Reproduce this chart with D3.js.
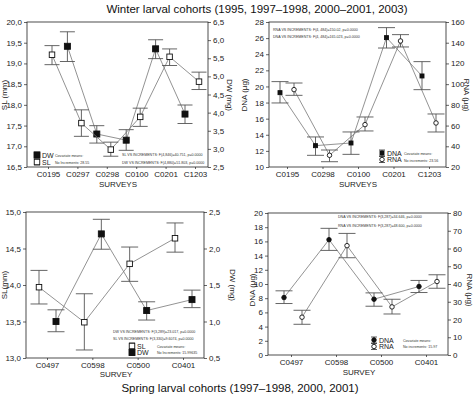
<!DOCTYPE html>
<html>
<head>
<meta charset="utf-8">
<script src="https://cdn.jsdelivr.net/npm/d3@7"></script>
<style>
  body { margin: 0; background: #fff; }
  svg { font-family: 'Liberation Sans', Arial, sans-serif; }
</style>
</head>
<body>
<svg id="chart" width="474" height="397"></svg>
<script>
// winter cohorts - SL / DW
const winterSurveys = ['C0195', 'C0297', 'C0298', 'C0100', 'C0201', 'C1203']
const winterSL = [19.21, 17.56, 16.92, 17.71, 19.16, 18.56]
const winterSLlo = [18.97, 17.24, 16.76, 17.48, 18.95, 18.37]
const winterSLhi = [19.43, 17.88, 17.10, 17.92, 19.35, 18.79]
const winterDWsurveys = ['C0297', 'C0298', 'C0100', 'C0201', 'C1203']
const winterDW = [5.83, 3.41, 3.24, 5.76, 3.96]
const winterDWlo = [5.41, 3.16, 2.96, 5.49, 3.70]
const winterDWhi = [6.23, 3.64, 3.53, 6.01, 4.21]
const slTicksW = [16.5, 17, 17.5, 18, 18.5, 19, 19.5, 20]
const dwTicksW = [2.5, 3, 3.5, 4, 4.5, 5, 5.5, 6, 6.5]

// winter cohorts - DNA / RNA
const winterNASurveys = ['C0195', 'C0298', 'C0100', 'C0201', 'C1203']
const winterDNA = [19.23, 12.65, 12.98, 26.06, 21.3]
const winterDNAlo = [17.95, 11.45, 11.57, 24.77, 19.6]
const winterDNAhi = [20.6, 13.73, 14.35, 27.3, 23.08]
const winterRNA = [94.7, 31.3, 60.9, 141.7, 62.5]
const winterRNAlo = [89.2, 25.1, 54.8, 135.9, 53.8]
const winterRNAhi = [101.1, 36.4, 68.3, 147.8, 71.2]
const dnaTicksW = [10, 12, 14, 16, 18, 20, 22, 24, 26, 28]
const rnaTicksW = [20, 40, 60, 80, 100, 120, 140, 160]

// spring cohorts
const springSurveys = ['C0497', 'C0598', 'C0500', 'C0401']
const springSL = [13.97, 13.49, 14.29, 14.64]
const springSLlo = [13.74, 13.11, 14.05, 14.45]
const springSLhi = [14.20, 13.88, 14.52, 14.85]
const springDW = [1.0, 2.2, 1.15, 1.3]
const springDWlo = [0.86, 1.99, 1.02, 1.19]
const springDWhi = [1.16, 2.4, 1.27, 1.43]
const slTicksS = [13, 13.5, 14, 14.5, 15]
const dwTicksS = [0.5, 1, 1.5, 2, 2.5]

const springDNA = [8.09, 16.24, 7.86, 9.65]
const springDNAlo = [7.25, 14.73, 6.87, 8.8]
const springDNAhi = [9.04, 17.84, 8.75, 10.5]
const springRNA = [21.3, 61.6, 27.1, 41.4]
const springRNAlo = [17.3, 54.8, 23.1, 37.6]
const springRNAhi = [25.2, 68.5, 31.4, 45.2]
const dnaTicksS = [0, 2, 4, 6, 8, 10, 12, 14, 16, 18, 20]
const rnaTicksS = [0, 10, 20, 30, 40, 50, 60, 70, 80]

const comma = d => d.toFixed(1).replace('.', ',')
const svg = d3.select('#chart')

function drawPanel (p) {
  const g = svg.append('g')
  const x = d3.scalePoint().domain(p.surveys).range(p.xRange)
  const yL = d3.scaleLinear().domain(p.leftDomain).range([p.bottom, p.top])
  const yR = d3.scaleLinear().domain(p.rightDomain).range([p.bottom, p.top])

  g.append('rect')
    .attr('x', p.left).attr('y', p.top)
    .attr('width', p.right - p.left).attr('height', p.bottom - p.top)
    .attr('fill', 'none').attr('stroke', '#222').attr('stroke-width', 0.8)

  const axes = [
    g.append('g').attr('transform', `translate(${p.left},0)`)
      .call(d3.axisLeft(yL).tickValues(p.leftTicks).tickFormat(p.fmt).tickSize(3).tickSizeOuter(0).tickPadding(2)),
    g.append('g').attr('transform', `translate(${p.right},0)`)
      .call(d3.axisRight(yR).tickValues(p.rightTicks).tickFormat(p.fmt).tickSize(3).tickSizeOuter(0).tickPadding(2)),
    g.append('g').attr('transform', `translate(0,${p.bottom})`)
      .call(d3.axisBottom(x).tickSize(2).tickSizeOuter(0).tickPadding(2))
  ]
  axes.forEach(a => {
    a.select('.domain').remove()
    a.selectAll('text').attr('font-size', 8).attr('fill', '#222')
    a.selectAll('line').attr('stroke', '#222').attr('stroke-width', 0.7)
  })

  p.series.forEach(s => {
    const y = s.axis === 'left' ? yL : yR
    const pts = s.surveys.map((c, i) => ({ x: x(c) + s.dx, m: s.mean[i], lo: s.lo[i], hi: s.hi[i] }))

    g.append('path')
      .attr('d', d3.line().x(d => d.x).y(d => y(d.m))(pts))
      .attr('fill', 'none').attr('stroke', '#777').attr('stroke-width', 0.8)

    const eb = g.append('g').attr('stroke', '#555').attr('stroke-width', 0.9)
    pts.forEach(d => {
      eb.append('line').attr('x1', d.x).attr('x2', d.x).attr('y1', y(d.lo)).attr('y2', y(d.hi))
      eb.append('line').attr('x1', d.x - p.cap).attr('x2', d.x + p.cap).attr('y1', y(d.lo)).attr('y2', y(d.lo))
      eb.append('line').attr('x1', d.x - p.cap).attr('x2', d.x + p.cap).attr('y1', y(d.hi)).attr('y2', y(d.hi))
    })

    pts.forEach(d => drawMarker(g, s, d.x, y(d.m)))
  })

  // axis titles
  const title = (tx, ty, txt, rot) => g.append('text')
    .attr('transform', `translate(${tx},${ty}) rotate(${rot || 0})`)
    .attr('text-anchor', 'middle').attr('font-size', 8).attr('fill', '#222').text(txt)
  title(p.leftTitle[0], p.leftTitle[1], p.leftTitle[2], -90)
  title(p.rightTitle[0], p.rightTitle[1], p.rightTitle[2], 90)
  title(p.xTitle[0], p.xTitle[1], p.xTitle[2])

  p.notes.forEach(n => {
    g.append('text').attr('x', n[0]).attr('y', n[1]).attr('font-size', n[3] || 3.6)
      .attr('fill', '#333').text(n[2])
  })

  p.legend.forEach(l => {
    const s = p.series[l.series]
    const eb = g.append('g').attr('stroke', '#333').attr('stroke-width', 0.8)
    eb.append('line').attr('x1', l.x).attr('x2', l.x).attr('y1', l.y - 3).attr('y2', l.y + 3)
    eb.append('line').attr('x1', l.x - 3).attr('x2', l.x + 3).attr('y1', l.y - 3).attr('y2', l.y - 3)
    eb.append('line').attr('x1', l.x - 3).attr('x2', l.x + 3).attr('y1', l.y + 3).attr('y2', l.y + 3)
    drawMarker(g, s, l.x, l.y)
    g.append('text').attr('x', l.x + 5).attr('y', l.y + 2.5).attr('font-size', 7).attr('fill', '#222').text(l.label)
  })
}

function drawMarker (g, s, cx, cy) {
  const r = s.size / 2
  if (s.shape === 'square') {
    g.append('rect').attr('x', cx - r).attr('y', cy - r).attr('width', s.size).attr('height', s.size)
      .attr('fill', s.filled ? '#111' : '#fff').attr('stroke', '#111').attr('stroke-width', 0.9)
  } else {
    g.append('circle').attr('cx', cx).attr('cy', cy).attr('r', r)
      .attr('fill', s.filled ? '#111' : '#fff').attr('stroke', '#111').attr('stroke-width', 0.9)
  }
}

drawPanel({
  left: 27, right: 208, top: 22, bottom: 167, xRange: [48, 195], cap: 7.5,
  surveys: winterSurveys,
  leftDomain: [16.5, 20], rightDomain: [2.5, 6.5], leftTicks: slTicksW, rightTicks: dwTicksW, fmt: comma,
  series: [
    { surveys: winterDWsurveys, mean: winterDW, lo: winterDWlo, hi: winterDWhi, axis: 'right', dx: -10, shape: 'square', filled: true, size: 6 },
    { surveys: winterSurveys, mean: winterSL, lo: winterSLlo, hi: winterSLhi, axis: 'left', dx: 4, shape: 'square', filled: false, size: 5.5 }
  ],
  leftTitle: [7, 95, 'SL (mm)'], rightTitle: [227, 95, 'DW (mg)'], xTitle: [118, 187, 'SURVEYS'],
  notes: [
    [55, 157, 'Covariate means:'], [55, 163.5, 'No Increments: 28.55'],
    [122, 156, 'SL VS INCREMENTS: F(4,846)=40.751, p=0.0000'], [122, 163.5, 'DW VS INCREMENTS: F(4,880)=51.803, p=0.0000']
  ],
  legend: [{ series: 0, x: 37, y: 155, label: 'DW' }, { series: 1, x: 37, y: 162, label: 'SL' }]
})

drawPanel({
  left: 269, right: 446, top: 22, bottom: 167, xRange: [287, 429], cap: 8.5,
  surveys: winterNASurveys,
  leftDomain: [10, 28], rightDomain: [20, 160], leftTicks: dnaTicksW, rightTicks: rnaTicksW, fmt: d3.format('d'),
  series: [
    { surveys: winterNASurveys, mean: winterRNA, lo: winterRNAlo, hi: winterRNAhi, axis: 'right', dx: 7, shape: 'circle', filled: false, size: 4.5 },
    { surveys: winterNASurveys, mean: winterDNA, lo: winterDNAlo, hi: winterDNAhi, axis: 'left', dx: -7, shape: 'square', filled: true, size: 4 }
  ],
  leftTitle: [247, 95, 'DNA (µg)'], rightTitle: [464, 95, 'RNA (µg)'], xTitle: [358, 187, 'SURVEYS'],
  notes: [
    [273, 30.5, 'RNA VS INCREMENTS: F(4, 484)=150.02, p=0.0000'], [273, 38, 'DNA VS INCREMENTS: F(4, 484)=165.023, p=0.0000'],
    [404, 155, 'Covariate means:'], [404, 161.5, 'No increments: 23.56']
  ],
  legend: [{ series: 1, x: 382, y: 153, label: 'DNA' }, { series: 0, x: 382, y: 159.5, label: 'RNA' }]
})

drawPanel({
  left: 26, right: 204, top: 212, bottom: 358, xRange: [47, 183], cap: 8.5,
  surveys: springSurveys,
  leftDomain: [13, 15], rightDomain: [0.5, 2.5], leftTicks: slTicksS, rightTicks: dwTicksS, fmt: comma,
  series: [
    { surveys: springSurveys, mean: springDW, lo: springDWlo, hi: springDWhi, axis: 'right', dx: 9, shape: 'square', filled: true, size: 6 },
    { surveys: springSurveys, mean: springSL, lo: springSLlo, hi: springSLhi, axis: 'left', dx: -8, shape: 'square', filled: false, size: 5.5 }
  ],
  leftTitle: [7, 285, 'SL(mm)'], rightTitle: [230, 285, 'DW (mg)'], xTitle: [116, 377, 'SURVEY'],
  notes: [
    [113, 333, 'DW VS INCREMENTS: F(3,289)=23.017, p=0.0000'], [113, 339.5, 'SL VS INCREMENTS: F(3,330)=9.6074, p=0.0000'],
    [157, 348, 'Covariate means:'], [157, 354, 'No Increments: 15.99635']
  ],
  legend: [{ series: 1, x: 132, y: 346, label: 'SL' }, { series: 0, x: 132, y: 352.5, label: 'DW' }]
})

drawPanel({
  left: 268, right: 448, top: 213, bottom: 355, xRange: [291, 426], cap: 8.5,
  surveys: springSurveys,
  leftDomain: [0, 20], rightDomain: [0, 80], leftTicks: dnaTicksS, rightTicks: rnaTicksS, fmt: d3.format('d'),
  series: [
    { surveys: springSurveys, mean: springRNA, lo: springRNAlo, hi: springRNAhi, axis: 'right', dx: 11, shape: 'circle', filled: false, size: 4.5 },
    { surveys: springSurveys, mean: springDNA, lo: springDNAlo, hi: springDNAhi, axis: 'left', dx: -7, shape: 'circle', filled: true, size: 4.5 }
  ],
  leftTitle: [255, 290, 'DNA (µg)'], rightTitle: [466.5, 290, 'RNA (µg)'], xTitle: [359, 375, 'SURVEY'],
  notes: [
    [338, 217.5, 'DNA VS INCREMENTS: F(3,287)=34.646, p=0.0000'], [338, 227, 'RNA VS INCREMENTS: F(3,287)=48.600, p=0.0000'],
    [403, 342, 'Covariate means:'], [403, 348, 'No increments: 15.97']
  ],
  legend: [{ series: 1, x: 374, y: 340, label: 'DNA' }, { series: 0, x: 374, y: 346.5, label: 'RNA' }]
})

svg.append('text').attr('x', 257).attr('y', 13).attr('text-anchor', 'middle')
  .attr('font-size', 11.5).attr('fill', '#111').text('Winter larval cohorts (1995, 1997–1998, 2000–2001, 2003)')
svg.append('text').attr('x', 240).attr('y', 392).attr('text-anchor', 'middle')
  .attr('font-size', 11.5).attr('fill', '#111').text('Spring larval cohorts (1997–1998, 2000, 2001)')
</script>
</body>
</html>
